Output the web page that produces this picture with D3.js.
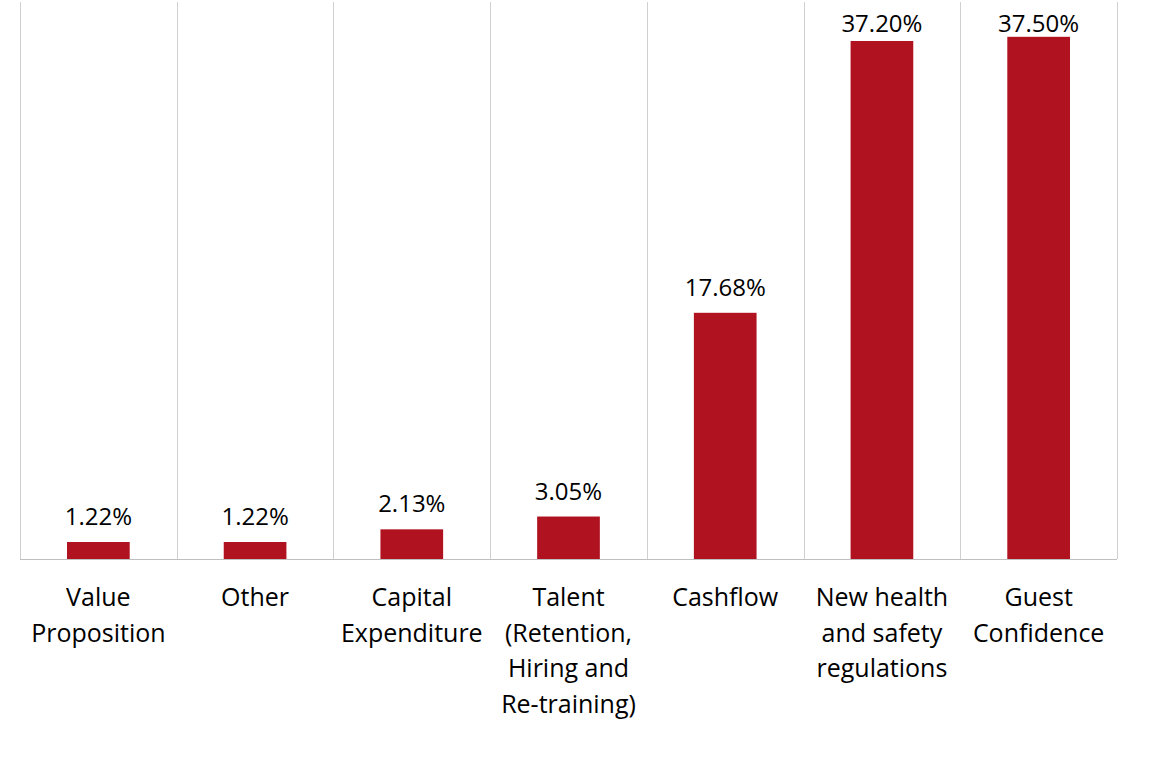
<!DOCTYPE html>
<html>
  <head>
    <meta charset="UTF-8">
    <script src="https://d3js.org/d3.v7.min.js"></script>
    <style>
      body { margin: 0; background: #fff; }
      text { font-family: "Open Sans", "Noto Sans", sans-serif; fill: #000; }
    </style>
  </head>
  <body>
    <svg id="chart" width="1155" height="781"></svg>
    <script>
      // data
      var categories = [
        ['Value', 'Proposition'],
        ['Other'],
        ['Capital', 'Expenditure'],
        ['Talent', '(Retention,', 'Hiring and', 'Re-training)'],
        ['Cashflow'],
        ['New health', 'and safety', 'regulations'],
        ['Guest', 'Confidence']
      ];
      var values = [1.22, 1.22, 2.13, 3.05, 17.68, 37.2, 37.5];
      var yMax = 40;

      var svg = d3.select('#chart');
      var plotLeft = 20, plotRight = 1117, plotTop = 2, plotBottom = 559;

      var x = d3.scaleBand()
        .domain(d3.range(values.length))
        .range([plotLeft, plotRight])
        .padding(0);

      var y = d3.scaleLinear().domain([0, yMax]).range([plotBottom, plotTop]);

      // vertical gridlines between categories
      var edges = d3.range(values.length + 1).map(function(i) {
        return i < values.length ? x(i) : x(values.length - 1) + x.bandwidth();
      });
      svg.selectAll('line.grid')
        .data(edges)
        .enter().append('line')
        .attr('class', 'grid')
        .attr('x1', function(d) { return Math.round(d) + 0.5; })
        .attr('x2', function(d) { return Math.round(d) + 0.5; })
        .attr('y1', y(yMax))
        .attr('y2', plotBottom)
        .attr('stroke', '#d0d0d0')
        .attr('stroke-width', 1);

      var barW = x.bandwidth() * 0.4;

      svg.selectAll('rect.bar')
        .data(values)
        .enter().append('rect')
        .attr('class', 'bar')
        .attr('x', function(d, i) { return x(i) + (x.bandwidth() - barW) / 2; })
        .attr('y', function(d) { return y(d); })
        .attr('width', barW)
        .attr('height', function(d) { return plotBottom - y(d); })
        .attr('fill', '#b0121f');

      // baseline
      svg.append('line')
        .attr('x1', plotLeft).attr('x2', plotRight)
        .attr('y1', plotBottom + 0.5).attr('y2', plotBottom + 0.5)
        .attr('stroke', '#bfbfbf')
        .attr('stroke-width', 1);

      // value labels (kept inside the top of the chart, like Excel does)
      svg.selectAll('text.val')
        .data(values)
        .enter().append('text')
        .attr('class', 'val')
        .attr('x', function(d, i) { return x(i) + x.bandwidth() / 2; })
        .attr('y', function(d) { return Math.max(y(d) - 17, 32); })
        .attr('text-anchor', 'middle')
        .style('font-size', '24px')
        .text(function(d) { return d.toFixed(2) + '%'; });

      // category labels
      var cat = svg.selectAll('text.cat')
        .data(categories)
        .enter().append('text')
        .attr('class', 'cat')
        .attr('text-anchor', 'middle')
        .style('font-size', '25px')
        .attr('transform', function(d, i) {
          return 'translate(' + (x(i) + x.bandwidth() / 2) + ',606)';
        });
      cat.selectAll('tspan')
        .data(function(d) { return d; })
        .enter().append('tspan')
        .attr('x', 0)
        .attr('y', function(d, i) { return i * 35.7; })
        .text(function(d) { return d; });
    </script>
  </body>
</html>
